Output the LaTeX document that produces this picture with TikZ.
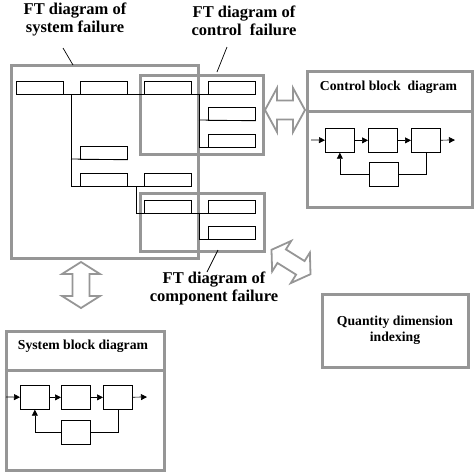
\documentclass[tikz,border=0pt]{standalone}
\usepackage{fontspec}
\setmainfont{Liberation Serif}
\usetikzlibrary{positioning, arrows.meta}

\definecolor{boxgray}{RGB}{150,150,150}

% hollow double arrow: centre, angle, half length, head half width, shaft half width
\newcommand{\hollowarrow}[5]{
	\begin{scope}[shift={(#1)}, rotate=#2]
		\draw[arrowline] (-#3,0) -- ({-#3+12},#4) -- ({-#3+12},#5) -- ({#3-12},#5)
			-- ({#3-12},#4) -- (#3,0) -- ({#3-12},-#4) -- ({#3-12},-#5)
			-- ({-#3+12},-#5) -- ({-#3+12},-#4) -- cycle;
	\end{scope}
}

\begin{document}
\begin{tikzpicture}[x=1pt, y=-1pt,
	ftrect/.style={draw, line width=0.8pt, anchor=north west, minimum width=47pt, minimum height=13pt, inner sep=0pt},
	graybox/.style={draw=boxgray, line width=3pt, anchor=north west, inner sep=0pt},
	blk/.style={draw, line width=0.7pt, anchor=north west, minimum width=29pt, minimum height=24pt, inner sep=0pt},
	arrowline/.style={draw=boxgray, line width=1.8pt, fill=white, line join=miter},
	lbl/.style={font=\fontsize{16.5}{18}\selectfont\bfseries, align=center, inner sep=0pt},
	title/.style={font=\fontsize{13.7}{16}\selectfont\bfseries, align=center, inner sep=0pt},
	flow/.style={line width=0.7pt, -{Triangle[length=6pt, width=6pt]}},
	tree/.style={line width=0.8pt}]
	\useasboundingbox (0,0) rectangle (474,472);

	% gray frames of the FT diagrams
	\node[graybox, minimum width=187pt, minimum height=193pt] (sysft) at (10,64) {};
	\node[graybox, minimum width=123pt, minimum height=79pt] (ctlft) at (139,74) {};
	\node[graybox, minimum width=124pt, minimum height=58pt] (cmpft) at (139,192) {};

	% fault tree events
	\node[ftrect] (s1) at (16,81) {};
	\node[ftrect] (s2) at (80,81) {};
	\node[ftrect] (s3) at (144,81) {};
	\node[ftrect] (c1) at (208,81) {};
	\node[ftrect] (c2) at (208,107) {};
	\node[ftrect] (c3) at (208,134) {};
	\node[ftrect] (s4) at (80,146) {};
	\node[ftrect] (s5) at (80,173) {};
	\node[ftrect] (s6) at (144,173) {};
	\node[ftrect] (k1) at (144,200) {};
	\node[ftrect] (k2) at (208,200) {};
	\node[ftrect] (k3) at (208,226) {};

	% fault tree branches
	\draw[tree] (s1.south west) -- (c1.south east);
	\draw[tree] (199,94) |- (c3.south east);
	\draw[tree] (199,120) -- (c2.south east);
	\draw[tree] (71,94) |- (s6.south east);
	\draw[tree] (71,159) -- (s4.south east);
	\draw[tree] (136,186) |- (k2.south east);
	\draw[tree] (199,213) |- (k3.south east);

	% labels of the FT diagrams
	\node[lbl] (lsys) at (75,19) {FT diagram of\\system failure};
	\node[lbl] (lctl) at (244,21) {FT diagram of\\control\ \ failure};
	\node[lbl] (lcmp) at (214,288) {FT diagram of\\component failure};
	\coordinate (psys1) at (63,48);
	\coordinate (psys2) at (73,65);
	\coordinate (pctl1) at (227,47);
	\coordinate (pctl2) at (217,72);
	\coordinate (pcmp1) at (218,250);
	\coordinate (pcmp2) at (207,272);
	\draw[line width=0.7pt] (psys1) -- (psys2);
	\draw[line width=0.7pt] (pctl1) -- (pctl2);
	\draw[line width=0.7pt] (pcmp1) -- (pcmp2);

	% control block diagram
	\node[graybox, minimum width=165pt, minimum height=136pt] (ctlbd) at (306,70) {};
	\draw[draw=boxgray, line width=3pt] (ctlbd.west |- 0,111) -- (ctlbd.east |- 0,111);
	\node[title] (ctltitle) at (388.5,87) {Control block\ \ diagram};
	\node[blk] (cb1) at (325,128) {};
	\node[blk] (cb2) at (368,128) {};
	\node[blk] (cb3) at (411,128) {};
	\node[blk] (cfb) at (369,162) {};
	\coordinate (cin) at (311,140);
	\coordinate (cout) at (455,140);
	\draw[flow] (cin) -- (cb1);
	\draw[flow] (cb1) -- (cb2);
	\draw[flow] (cb2) -- (cb3);
	\draw[flow] (cb3) -- (cout);
	\draw[line width=0.7pt] (cb3.south) |- (cfb.east);
	\draw[flow] (cfb.west) -| (cb1.south);

	% system block diagram
	\node[graybox, minimum width=158pt, minimum height=139pt] (sysbd) at (4.5,330) {};
	\draw[draw=boxgray, line width=3pt] (sysbd.west |- 0,370) -- (sysbd.east |- 0,370);
	\node[title] (systitle) at (83,346) {System block diagram};
	\node[blk] (sb1) at (20,385) {};
	\node[blk] (sb2) at (61,385) {};
	\node[blk] (sb3) at (103,385) {};
	\node[blk] (sfb) at (61,420) {};
	\coordinate (sin) at (6,397);
	\coordinate (sout) at (147,397);
	\draw[flow] (sin) -- (sb1);
	\draw[flow] (sb1) -- (sb2);
	\draw[flow] (sb2) -- (sb3);
	\draw[flow] (sb3) -- (sout);
	\draw[line width=0.7pt] (sb3.south) |- (sfb.east);
	\draw[flow] (sfb.west) -| (sb1.south);

	% quantity dimension indexing
	\node[graybox, minimum width=146pt, minimum height=73pt] (qdi) at (320.5,292.5) {};
	\node[title] (qditext) at (qdi.center) {Quantity dimension\\indexing};

	% hollow double arrows
	\hollowarrow{285,110}{0}{20}{22}{9.5}
	\hollowarrow{81,285}{90}{23}{19}{8.5}
	\hollowarrow{291,262}{-32}{23}{18}{8}
\end{tikzpicture}
\end{document}
